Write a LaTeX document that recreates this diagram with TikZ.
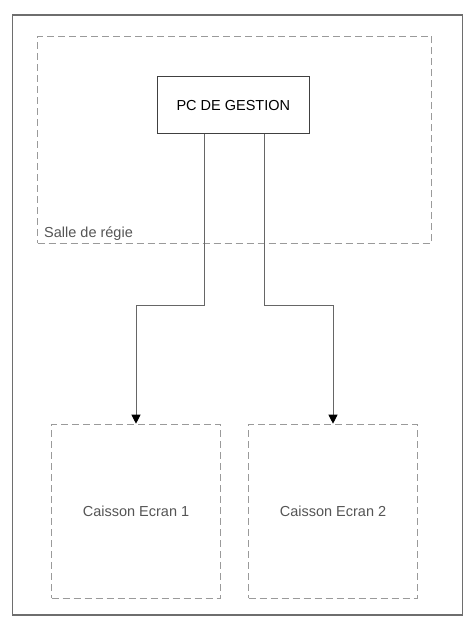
\documentclass[tikz,border=0pt]{standalone}
\usepackage{fontspec}
\setmainfont{Liberation Sans}
\usetikzlibrary{arrows.meta}
\definecolor{framegray}{HTML}{6E6E6E}
\definecolor{dashgray}{HTML}{9A9A9A}
\definecolor{txtgray}{HTML}{555555}
\definecolor{linegray}{HTML}{666666}
\tikzset{
  frame/.style={draw=framegray, line width=1.4pt, inner sep=0pt, minimum width=450pt, minimum height=600pt},
  zone/.style={draw=dashgray, line width=1pt, dash pattern=on 7pt off 4pt, inner sep=0pt},
  pcbox/.style={draw=black!75, line width=1pt, fill=white, inner sep=0pt, minimum width=152pt, minimum height=57pt, font=\fontsize{14.5}{16}\selectfont},
  caisson/.style={zone, minimum width=168.6pt, minimum height=174pt, text=txtgray, font=\fontsize{14.5}{16}\selectfont},
  conn/.style={draw=linegray, line width=1pt, -{Triangle[length=9pt,width=9pt,color=black]}},
  lbl/.style={text=txtgray, inner sep=0pt, font=\fontsize{14.5}{16}\selectfont}
}
\begin{document}
\begin{tikzpicture}[x=1pt,y=-1pt]
\useasboundingbox[fill=white] (0,0) rectangle (474,632);
\node[frame] (outer) at (237.3,315) {};
\node[zone, minimum width=394pt, minimum height=207pt] (salle) at (234.6,139.5) {};
\node[lbl, anchor=base west] (sallelbl) at (44,237) {Salle de régie};
\node[pcbox] (pc) at (233.3,105.3) {PC DE GESTION};
\node[caisson] (c1) at (136,511.2) {Caisson Ecran 1};
\node[caisson] (c2) at (333,511.2) {Caisson Ecran 2};
\coordinate (k1) at (204,305);
\coordinate (k2) at (136,305);
\coordinate (k3) at (264.3,305);
\coordinate (k4) at (333,305);
\draw[conn] (pc.south -| k1) -- (k1) -- (k2) -- (c1.north);
\draw[conn] (pc.south -| k3) -- (k3) -- (k4) -- (c2.north);
\end{tikzpicture}
\end{document}
